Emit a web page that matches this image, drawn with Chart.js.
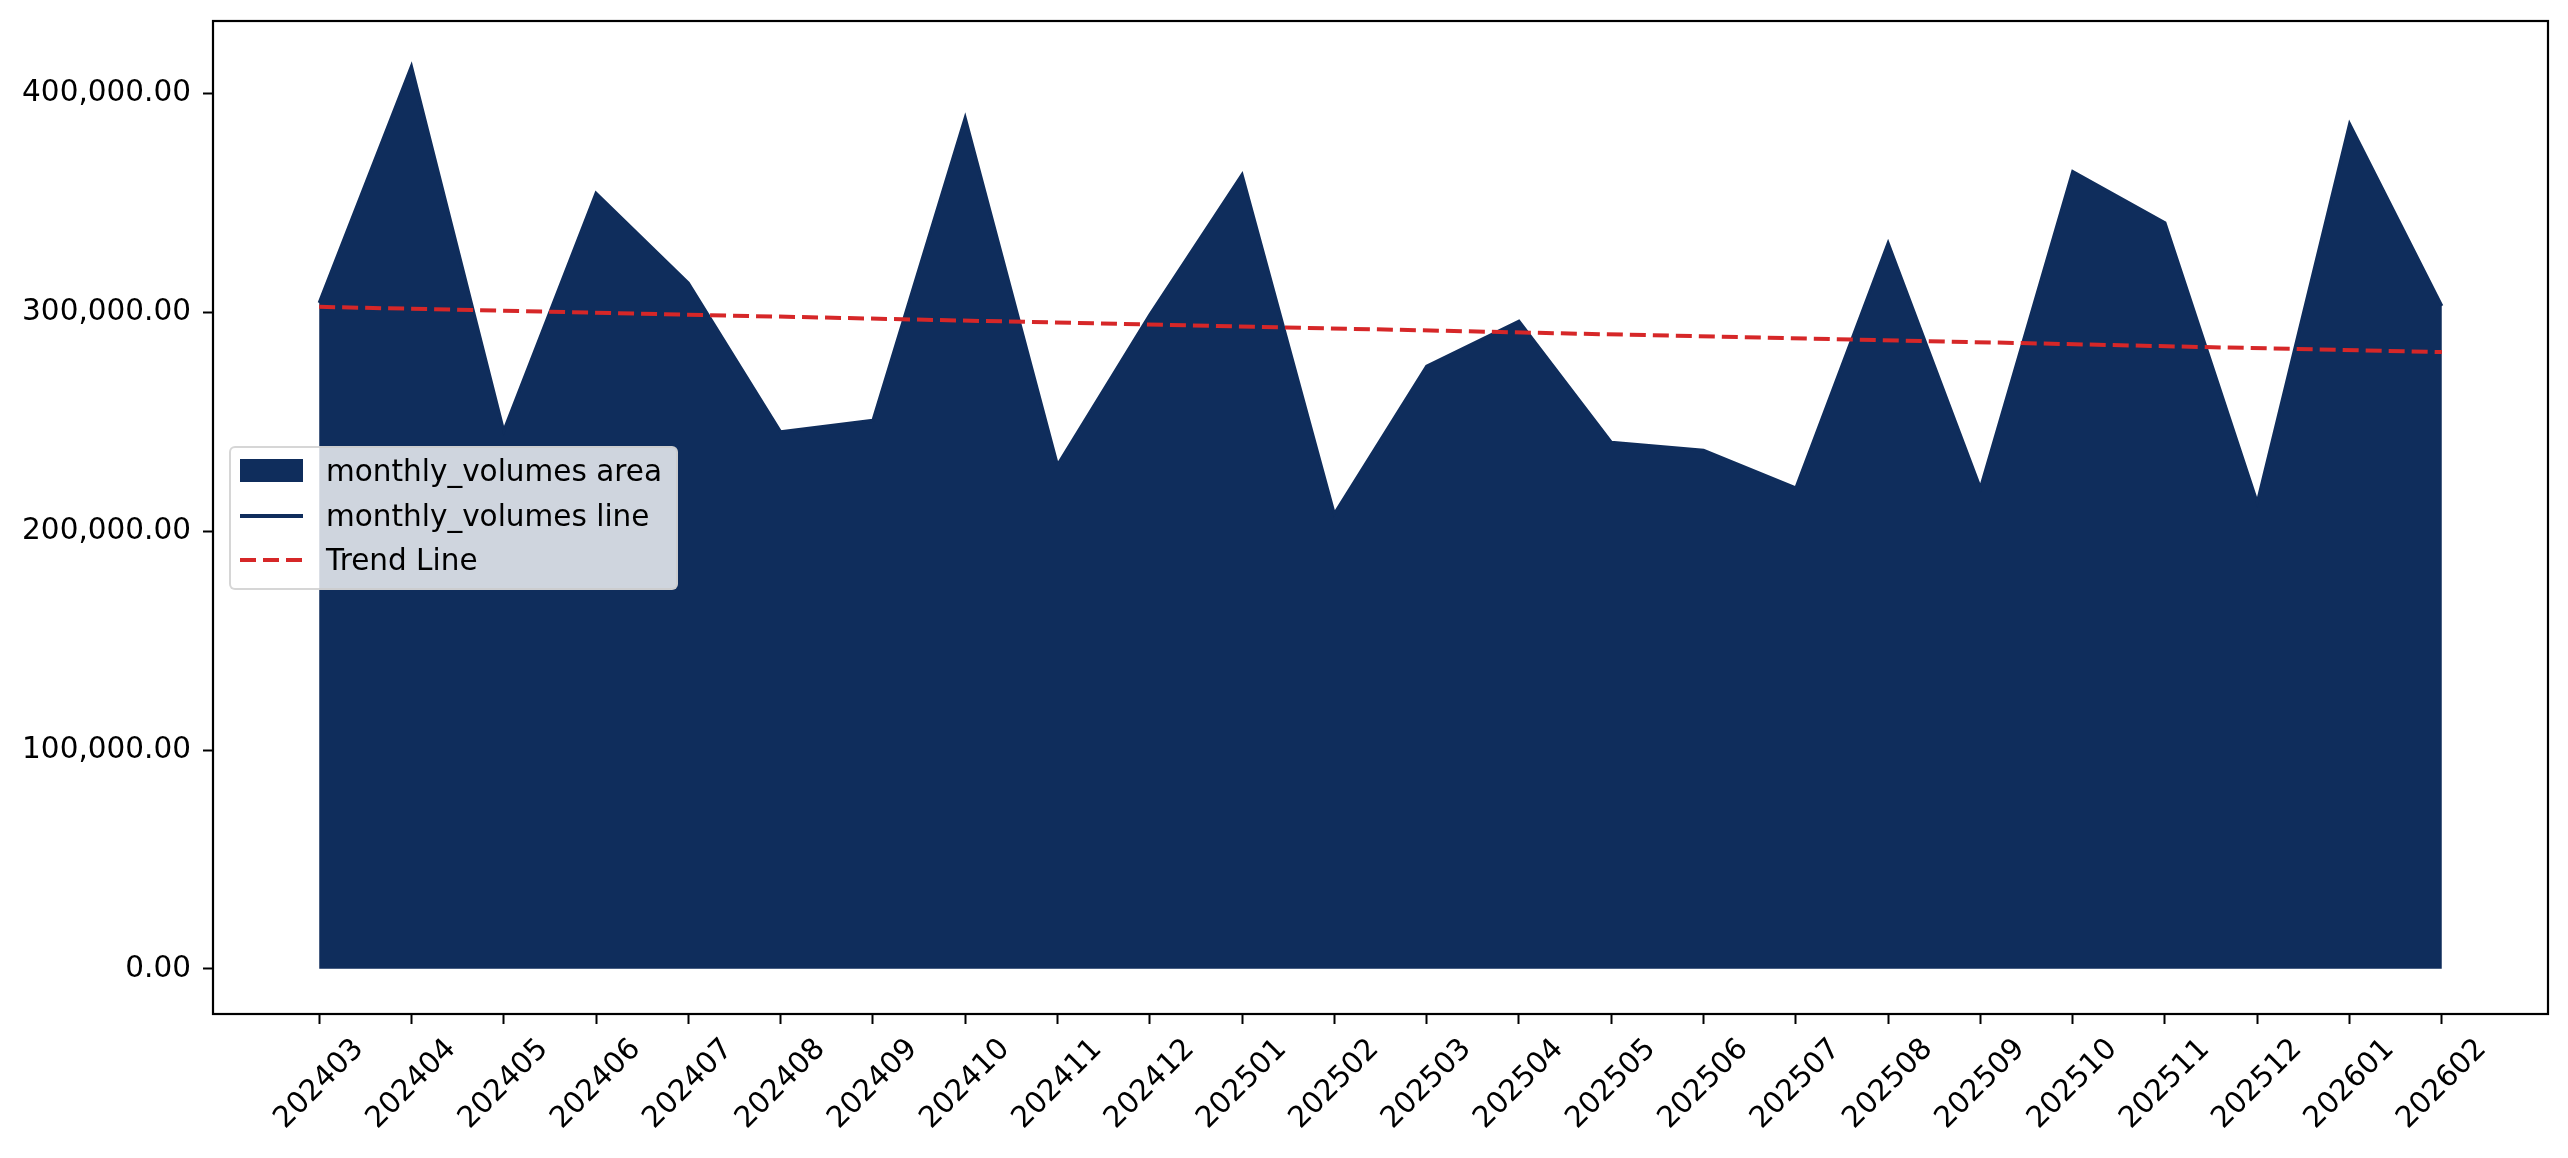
<!DOCTYPE html>
<html>
<head>
<meta charset="utf-8">
<script src="https://cdn.jsdelivr.net/npm/chart.js@4.4.1/dist/chart.umd.min.js"></script>
<style>
  body { margin: 0; background: #fff; overflow: hidden; }
  #wrap { position: relative; width: 2568px; height: 1158px; }
  #legend {
    position: absolute; left: 229px; top: 446px; width: 449px; height: 144px;
    box-sizing: border-box; border: 2px solid rgba(204,204,204,0.8); border-radius: 6px;
    background: rgba(255,255,255,0.8); font-family: 'DejaVu Sans'; font-size: 29.5px; color: #000;
  }
  #legend .txt { position: absolute; left: 95px; height: 44px; line-height: 44px; white-space: nowrap; }
  #legend .h { position: absolute; left: 9px; }
</style>
</head>
<body>
<div id="wrap">
  <canvas id="myChart" width="2568" height="1158"></canvas>
  <div id="legend">
    <div class="h" style="top:11px;width:63px;height:23px;background:#0f2d5c"></div>
    <div class="txt" style="top:1px">monthly_volumes area</div>
    <div class="h" style="top:66px;width:63px;height:4px;background:#0f2d5c"></div>
    <div class="txt" style="top:46px">monthly_volumes line</div>
    <svg class="h" style="top:108px" width="63" height="8"><line x1="0" y1="4" x2="63" y2="4" stroke="#d62728" stroke-width="4" stroke-dasharray="16,7"/></svg>
    <div class="txt" style="top:90px">Trend Line</div>
  </div>
</div>
<script>
const months = ['202403','202404','202405','202406','202407','202408','202409','202410',
  '202411','202412','202501','202502','202503','202504','202505','202506','202507',
  '202508','202509','202510','202511','202512','202601','202602']
const volumes = [304400, 412600, 245900, 354600, 313500, 245500, 250700, 389000,
  230300, 299000, 363000, 208000, 275500, 296000, 240700, 237000, 219800,
  331800, 219800, 364500, 341000, 213200, 386200, 303000]
const trendStart = 302600
const trendEnd = 281900
const yTicks = [0, 100000, 200000, 300000, 400000]

const navy = '#0f2d5c'
const last = months.length - 1
const points = volumes.map((v, i) => ({ x: i, y: v }))
const trendPoints = [{ x: 0, y: trendStart }, { x: last, y: trendEnd }]

const maxV = Math.max(...volumes)
const yMargin = maxV * 0.05

Chart.defaults.font.family = 'DejaVu Sans'
Chart.defaults.font.size = 29.5
Chart.defaults.color = '#000'

const frame = {
  id: 'frame',
  afterDraw(chart) {
    const a = chart.chartArea, c = chart.ctx
    c.save()
    c.strokeStyle = '#000'
    c.lineWidth = 2.2
    c.strokeRect(a.left, a.top, a.right - a.left, a.bottom - a.top)
    c.restore()
  }
}

var ctx = document.getElementById('myChart').getContext('2d')
var myChart = new Chart(ctx, {
  type: 'line',
  data: {
    datasets: [{
      label: 'monthly_volumes area',
      data: points,
      fill: 'origin',
      backgroundColor: navy,
      borderWidth: 0,
      pointRadius: 0,
      order: 3
    }, {
      label: 'monthly_volumes line',
      data: points,
      fill: false,
      borderColor: navy,
      borderWidth: 3,
      pointRadius: 0,
      order: 2
    }, {
      label: 'Trend Line',
      data: trendPoints,
      fill: false,
      borderColor: '#d62728',
      borderWidth: 4,
      borderDash: [16, 7],
      pointRadius: 0,
      order: 1
    }]
  },
  options: {
    responsive: false,
    devicePixelRatio: 1,
    animation: false,
    layout: { padding: { top: 21, right: 20, left: 0, bottom: 0 } },
    plugins: { legend: { display: false }, tooltip: { enabled: false } },
    scales: {
      x: {
        type: 'linear',
        min: -0.05 * last,
        max: last * 1.05,
        afterBuildTicks: s => { s.ticks = months.map((m, i) => ({ value: i })) },
        afterFit: s => { s.height = 144; s.paddingLeft = 0; s.paddingRight = 0 },
        ticks: {
          autoSkip: false,
          minRotation: 45,
          maxRotation: 45,
          labelOffset: 40,
          padding: 8,
          callback: v => months[v]
        },
        grid: { drawOnChartArea: false, drawTicks: true, tickLength: 10, tickWidth: 2, tickColor: '#000' },
        border: { display: false }
      },
      y: {
        min: -yMargin,
        max: maxV + yMargin,
        afterBuildTicks: s => { s.ticks = yTicks.map(v => ({ value: v })) },
        afterFit: s => { s.width = 213; s.paddingTop = 0; s.paddingBottom = 0 },
        ticks: {
          padding: 12,
          callback: v => v.toLocaleString('en-US', { minimumFractionDigits: 2, maximumFractionDigits: 2 })
        },
        grid: { drawOnChartArea: false, drawTicks: true, tickLength: 10, tickWidth: 2, tickColor: '#000' },
        border: { display: false }
      }
    }
  },
  plugins: [frame]
})
</script>
</body>
</html>
